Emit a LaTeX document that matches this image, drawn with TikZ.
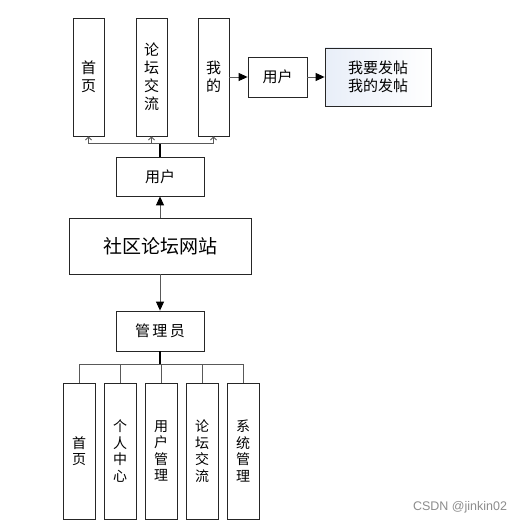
\documentclass[tikz,border=0pt]{standalone}
\usepackage{fontspec}
\newfontfamily\cjk{Noto Sans CJK SC}
\newfontfamily\wm{Liberation Sans}
\usetikzlibrary{arrows.meta}
\begin{document}
\begin{tikzpicture}[x=1pt,y=-1pt,
  box/.style={draw=black!85,line width=0.8pt,inner sep=0pt,align=center,font=\cjk\fontsize{15}{18}\selectfont},
  tallbox/.style={box,minimum width=31pt,minimum height=118pt},
  lowbox/.style={box,minimum width=32pt,minimum height=136pt,font=\cjk\fontsize{14}{16.5}\selectfont},
  conn/.style={draw=black!65,line width=0.9pt},
  stem/.style={draw=black,line width=1.3pt},
  solidarrow/.style={-{Triangle[length=9pt,width=8pt,color=black]}},
  openarrow/.style={-{Straight Barb[length=3pt,width=6pt]}}
]
\useasboundingbox (0,0) rectangle (524,524);
% top row
\node[tallbox] (sy) at (88.5,77) {首\\页};
\node[tallbox] (lt) at (151.5,77) {论\\坛\\交\\流};
\node[tallbox] (wd) at (213.5,77) {我\\的};
\node[box,minimum width=59pt,minimum height=40pt] (yhr) at (277.5,77) {用户};
\node[box,minimum width=106pt,minimum height=58pt,shading angle=135,top color=white,bottom color=white,middle color=white,left color={rgb,255:red,232;green,238;blue,248},right color=white,draw=black!85] (ft) at (378,77) {我要发帖\\我的发帖};
\node[box,minimum width=88pt,minimum height=39pt] (yhm) at (160,176.5) {用户};
\node[box,minimum width=182pt,minimum height=56pt,font=\cjk\fontsize{19}{22}\selectfont] (site) at (160,246) {社区论坛网站};
\node[box,minimum width=88pt,minimum height=40pt] (gly) at (160,331) {管\,理\,员};
% bottom row
\node[lowbox] (b1) at (79,451) {首\\页};
\node[lowbox] (b2) at (120,451) {个\\人\\中\\心};
\node[lowbox] (b3) at (161,451) {用\\户\\管\\理};
\node[lowbox] (b4) at (202,451) {论\\坛\\交\\流};
\node[lowbox] (b5) at (243,451) {系\\统\\管\\理};
% connectors top
\coordinate (tj) at (160,143);
\draw[stem] (yhm.north) -- (tj);
\draw[conn,openarrow] (tj) -| (sy.south);
\draw[conn,openarrow] (tj) -| (lt.south);
\draw[conn,openarrow] (tj) -| (wd.south);
\draw[conn,solidarrow] (wd.east) -- (yhr.west);
\draw[conn,solidarrow] (yhr.east) -- (ft.west);
\draw[conn,solidarrow] (site.north) -- (yhm.south);
\draw[conn,solidarrow] (site.south) -- (gly.north);
% connectors bottom
\coordinate (bj) at (160,364);
\draw[stem] (gly.south) -- (bj);
\foreach \b in {b1,b2,b3,b4,b5}{\draw[conn] (bj) -| (\b.north);}
% watermark
\node[font=\wm\fontsize{12.5}{14}\selectfont,text=black!45,inner sep=0pt] (wmk) at (460,507) {CSDN @jinkin02};
\end{tikzpicture}
\end{document}
